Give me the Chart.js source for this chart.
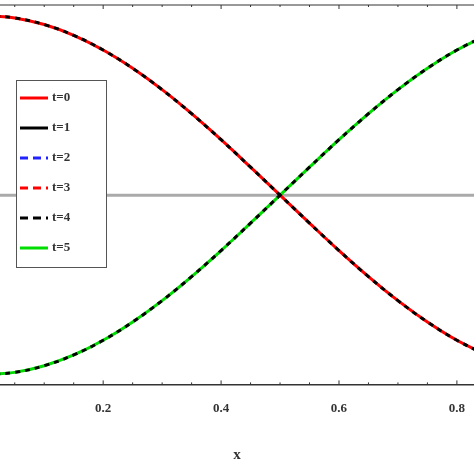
<!DOCTYPE html>
<html><head><meta charset="utf-8">
<script src="https://cdn.jsdelivr.net/npm/chart.js@4/dist/chart.umd.min.js"></script>
<style>html,body{margin:0;padding:0;background:#fff}</style></head>
<body><canvas id="c" width="474" height="474"></canvas>
<script>
const xs = [0,0.05,0.1,0.15,0.2,0.25,0.3,0.35,0.4,0.45,0.5,0.55,0.6,0.65,0.7,0.75,0.8,0.85];
const upper = [1,0.988,0.951,0.891,0.809,0.707,0.588,0.454,0.309,0.156,0,-0.156,-0.309,-0.454,-0.588,-0.707,-0.809,-0.891];
const lower = [-1,-0.988,-0.951,-0.891,-0.809,-0.707,-0.588,-0.454,-0.309,-0.156,0,0.156,0.309,0.454,0.588,0.707,0.809,0.891];
const legendLabels = ['t=0','t=1','t=2','t=3','t=4','t=5'];
const legendColors = ['#ff0000','#000000','#2222ff','#ff0000','#000000','#00dd00'];
const legendDash = [false,false,true,true,true,false];
const pts = a => xs.map((x,i)=>({x, y:a[i]}));
const extras = {
  id:'extras',
  beforeDatasetsDraw(ch){
    const c=ch.ctx, a=ch.chartArea, y=ch.scales.y.getPixelForValue(0);
    c.save(); c.strokeStyle='#aaaaaa'; c.lineWidth=3;
    c.beginPath(); c.moveTo(a.left,y); c.lineTo(a.right,y); c.stroke();
    c.strokeStyle='#333'; c.lineWidth=1;
    c.beginPath(); c.moveTo(a.left,a.top); c.lineTo(a.right,a.top); c.stroke();
    const sx=ch.scales.x;
    for(let v=0.05; v<0.83; v+=0.05){ const p=sx.getPixelForValue(v); const major=Math.abs(v/0.2-Math.round(v/0.2))<1e-6;
      c.beginPath(); c.moveTo(p,a.top); c.lineTo(p,a.top+(major?4:2)); c.stroke();
      c.beginPath(); c.moveTo(p,a.bottom); c.lineTo(p,a.bottom-(major?4:2)); c.stroke(); }
    c.restore();
  },
  afterDatasetsDraw(ch){
    const c=ch.ctx; c.save();
    c.fillStyle='#fff'; c.fillRect(16,80,90,187);
    c.strokeStyle='#555'; c.lineWidth=1; c.strokeRect(16.5,80.5,90,187);
    c.font='bold 13px "Liberation Serif"'; c.textBaseline='middle'; c.fillStyle='#333';
    legendLabels.forEach((l,i)=>{ const y=98+i*30;
      c.strokeStyle=legendColors[i]; c.lineWidth=3; c.setLineDash(legendDash[i]?[8,5]:[]);
      c.beginPath(); c.moveTo(20,y); c.lineTo(48,y); c.stroke(); c.setLineDash([]);
      c.fillText(l,52,y); });
    c.restore();
  }
};
new Chart(document.getElementById('c'),{
  type:'line',
  data:{datasets:[
    {data:pts(upper),borderColor:'#000',borderWidth:3,borderDash:[5,5],pointRadius:0,tension:0.4,order:0},
    {data:pts(lower),borderColor:'#000',borderWidth:3,borderDash:[5,5],pointRadius:0,tension:0.4,order:1},
    {data:pts(upper),borderColor:'#ff0000',borderWidth:3,pointRadius:0,tension:0.4,order:2},
    {data:pts(lower),borderColor:'#00dd00',borderWidth:3,pointRadius:0,tension:0.4,order:3}
  ]},
  options:{responsive:false,animation:false,layout:{padding:{top:5,left:0,right:0,bottom:6}},
    plugins:{legend:{display:false},tooltip:{enabled:false}},
    scales:{
      x:{type:'linear',min:0.025,max:0.829,
        afterBuildTicks(s){s.ticks=[0.2,0.4,0.6,0.8].map(v=>({value:v}));},
        grid:{display:false},border:{color:'#333',width:1.5},
        ticks:{color:'#333',padding:8,font:{family:'Liberation Serif',size:13,weight:'bold'},callback:v=>v.toFixed(1)},
        title:{display:true,text:'x',color:'#333',font:{family:'Liberation Serif',size:15,weight:'bold'},padding:{top:22}}},
      y:{display:false,min:-1.055,max:1.06}
    }},
  plugins:[extras]
});
</script></body></html>
